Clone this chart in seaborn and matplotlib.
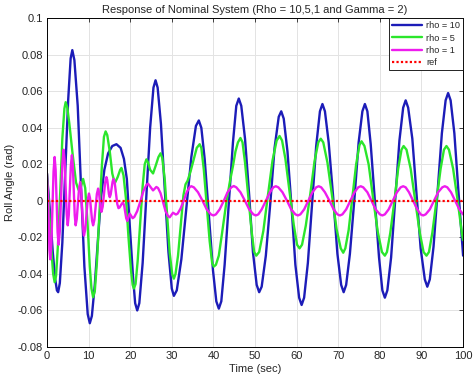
import matplotlib
matplotlib.use("Agg")
import seaborn as sns
import matplotlib.pyplot as plt

# values (time in sec, roll angle in rad)
t_rho10 = [0, 0.7, 1.4, 2.0, 2.4, 2.7,
           3.1, 3.7, 4.4, 5.1, 5.7, 6.1,
           6.6, 7.4, 8.2, 9.0, 9.8, 10.3,
           10.8, 11.5, 12.3, 13.0, 13.8, 14.7, 15.7, 16.7, 17.7, 18.5, 19.2, 20.0, 20.7, 21.2, 21.7,
           22.2, 23.0, 23.9, 24.8, 25.6, 26.1,
           26.6, 27.4, 28.3, 29.2, 30.0, 30.5,
           31.2, 32.3, 33.5, 34.7, 35.8, 36.5,
           37.1, 37.9, 38.9, 39.9, 40.7, 41.3,
           41.9, 42.7, 43.7, 44.7, 45.5, 46.1,
           46.7, 47.6, 48.6, 49.5, 50.4, 51.0,
           51.6, 52.6, 53.7, 54.7, 55.7, 56.3,
           56.9, 57.8, 58.8, 59.7, 60.6, 61.2,
           61.8, 62.7, 63.7, 64.7, 65.6, 66.2,
           66.8, 67.7, 68.8, 69.8, 70.7, 71.3,
           71.9, 72.8, 73.9, 74.9, 75.8, 76.4,
           77.0, 77.8, 78.8, 79.8, 80.6, 81.2,
           81.8, 82.7, 83.7, 84.7, 85.6, 86.2,
           86.8, 87.8, 88.8, 89.8, 90.8, 91.4,
           92.0, 92.9, 93.9, 94.9, 95.8, 96.4,
           97.0, 97.9, 98.9, 100]
v_rho10 = [0.015, -0.005, -0.028, -0.043, -0.049, -0.050,
           -0.045, -0.023, 0.016, 0.055, 0.078, 0.0825,
           0.077, 0.052, 0.0075, -0.036, -0.062, -0.067,
           -0.063, -0.046, -0.020, 0.002, 0.017, 0.026, 0.030, 0.031, 0.029, 0.023, 0.012, -0.017,
           -0.042, -0.056, -0.060,
           -0.056, -0.034, 0.003, 0.040, 0.062, 0.066,
           0.062, 0.042, 0.007, -0.028, -0.048, -0.052,
           -0.049, -0.032, -0.004, 0.024, 0.041, 0.044,
           0.040, 0.023, -0.0075, -0.038, -0.055, -0.059,
           -0.055, -0.035, -0.0015, 0.032, 0.052, 0.056,
           0.052, 0.034, 0.003, -0.028, -0.046, -0.050,
           -0.047, -0.030, -0.0005, 0.029, 0.046, 0.049,
           0.045, 0.027, -0.004, -0.035, -0.053, -0.057,
           -0.053, -0.034, -0.002, 0.030, 0.049, 0.053,
           0.049, 0.032, 0.0015, -0.029, -0.046, -0.050,
           -0.046, -0.029, 0.0015, 0.032, 0.049, 0.053,
           0.049, 0.031, 0.0, -0.031, -0.049, -0.053,
           -0.049, -0.031, 0.001, 0.033, 0.051, 0.055,
           0.051, 0.034, 0.004, -0.026, -0.043, -0.047,
           -0.043, -0.025, 0.006, 0.037, 0.055, 0.059,
           0.055, 0.037, 0.0045, -0.030]

t_rho5 = [0, 0.5, 1.0, 1.5, 1.85,
          2.2, 2.65, 3.2, 3.7, 4.2, 4.5,
          4.9, 5.4, 6.2, 7.0, 7.6, 8.2, 8.7, 9.2, 9.8, 10.3, 10.7, 11.1,
          11.5, 12.0, 12.6, 13.2, 13.7, 14.1,
          14.5, 15.1, 15.7, 16.3, 17.0, 17.6, 17.9, 18.4, 19.0, 19.6, 20.2, 20.6, 20.9,
          21.3, 21.8, 22.4, 23.0, 23.5, 23.9,
          24.3, 24.8, 25.5, 26.1, 26.8, 27.3,
          27.7, 28.3, 28.9, 29.5, 30.1, 30.5,
          30.9, 31.5, 32.2, 32.8, 33.3, 33.8, 34.5, 35.3, 36.0, 36.7,
          37.1, 37.7, 38.4, 39.1, 39.7, 40.1,
          40.6, 41.3, 42.0, 43.1, 44.0, 44.7, 45.3, 45.9, 46.5,
          47.0, 47.6, 48.4, 49.2, 49.8, 50.3,
          51.0, 52.0, 53.1, 54.2, 55.2, 55.9,
          56.5, 57.3, 58.3, 59.3, 60.1, 60.7,
          61.3, 62.2, 63.3, 64.3, 65.2, 65.8,
          66.4, 67.4, 68.5, 69.6, 70.6, 71.2,
          71.7, 72.5, 73.4, 74.3, 75.1, 75.6,
          76.3, 77.3, 78.4, 79.5, 80.5, 81.2,
          81.7, 82.5, 83.5, 84.4, 85.2, 85.7,
          86.4, 87.4, 88.5, 89.6, 90.5, 91.2,
          91.8, 92.6, 93.6, 94.6, 95.4, 96.0,
          96.6, 97.6, 98.7, 99.7, 100]
v_rho5 = [0.015, -0.004, -0.025, -0.040, -0.0445,
          -0.041, -0.024, 0.0048, 0.034, 0.0505, 0.054,
          0.051, 0.042, 0.025, 0.010, 0.006, 0.008, 0.012, 0.007, -0.014, -0.036, -0.048, -0.0527,
          -0.0495, -0.034, -0.007, 0.019, 0.035, 0.038,
          0.036, 0.027, 0.015, 0.0096, 0.013, 0.017, 0.018, 0.014, 0.001, -0.020, -0.038, -0.046,
          -0.048,
          -0.0455, -0.033, -0.0127, 0.008, 0.020, 0.0227,
          0.021, 0.017, 0.015, 0.019, 0.024, 0.026,
          0.0236, 0.012, -0.0083, -0.0285, -0.040, -0.0426,
          -0.040, -0.030, -0.012, 0.003, 0.009, 0.011, 0.016, 0.023, 0.029, 0.031,
          0.029, 0.017, -0.0025, -0.022, -0.034, -0.036,
          -0.035, -0.030, -0.019, -0.001, 0.011, 0.019, 0.027, 0.032, 0.0344,
          0.032, 0.021, 0.002, -0.017, -0.028, -0.030,
          -0.028, -0.0165, 0.003, 0.022, 0.033, 0.0355,
          0.033, 0.023, 0.005, -0.013, -0.024, -0.026,
          -0.024, -0.0136, 0.004, 0.0216, 0.032, 0.034,
          0.032, 0.021, 0.003, -0.0155, -0.026, -0.0284,
          -0.026, -0.016, 0.002, 0.020, 0.0305, 0.0326,
          0.030, 0.020, 0.001, -0.017, -0.028, -0.030,
          -0.028, -0.0176, 0.0, 0.0176, 0.028, 0.030,
          0.028, 0.0176, 0.0, -0.0176, -0.028, -0.030,
          -0.028, -0.0176, 0.0, 0.0176, 0.028, 0.030,
          0.028, 0.0176, 0.0, -0.0176, -0.0215]

t_rho1 = [0, 0.3, 0.6, 0.8, 1.06, 1.59, 1.85, 2.09, 2.56, 2.8, 3.1, 3.7, 4.0, 4.25, 4.75, 5.0,
          5.25, 5.75, 6.0, 6.22, 6.68, 6.9, 7.17, 7.72, 8.0, 8.22, 8.68, 8.9, 9.2, 9.8, 10.1,
          10.35, 10.85, 11.1, 11.4, 12.0, 12.3, 12.5, 12.9, 13.1, 13.4, 14.0, 14.3, 14.5, 14.9,
          15.1, 15.32, 15.78, 16.0, 16.3, 16.9, 17.2, 17.47, 18.03, 18.3, 18.55, 19.05, 19.3,
          19.9, 20.6, 21.0, 21.7, 22.5, 23.2, 23.9, 24.3, 25.5, 26.3, 26.7, 27.3, 27.9, 28.5,
          29.1, 29.5, 30.3, 31.0, 31.4, 32.1, 32.9, 33.6, 34.3, 34.7, 35.3, 36.3, 37.4, 38.4,
          39.4, 40.0,
          40.6, 41.5, 42.5, 43.4, 44.3, 44.9,
          45.5, 46.5, 47.6, 48.6, 49.6, 50.2,
          50.8, 51.6, 52.6, 53.6, 54.4, 55.0,
          55.6, 56.6, 57.7, 58.7, 59.7, 60.3,
          60.9, 61.8, 62.8, 63.8, 64.7, 65.3,
          65.9, 66.8, 67.9, 68.9, 69.8, 70.4,
          71.0, 71.9, 72.9, 73.9, 74.8, 75.4,
          76.0, 77.0, 78.0, 79.0, 80.0, 80.6,
          81.2, 82.1, 83.1, 84.1, 85.0, 85.6,
          86.2, 87.0, 88.0, 89.0, 89.8, 90.4,
          91.0, 92.0, 93.0, 94.0, 95.0, 95.6,
          96.2, 97.1, 98.1, 99.1, 100]
v_rho1 = [0.015, 0.0, -0.027, -0.032, -0.024, 0.016, 0.024, 0.017, -0.017, -0.024, -0.0164,
          0.0204, 0.028, 0.022, -0.0074, -0.0134, -0.0078, 0.0194, 0.025, 0.0194, -0.0078,
          -0.0134, -0.0099, 0.0068, 0.0103, 0.006, -0.0147, -0.019, -0.0156, 0.0006, 0.004,
          0.0015, -0.0109, -0.0134, -0.0105, 0.0038, 0.0067, 0.0048, -0.0041, -0.006, -0.0032,
          0.0102, 0.013, 0.0114, 0.0036, 0.002, 0.0035, 0.0105, 0.012, 0.0097, -0.0017, -0.004,
          -0.0036, -0.0014, -0.001, -0.0025, -0.0095, -0.011,
          -0.007, -0.0095, -0.0088, -0.0056, 0.0, 0.0055, 0.0087, 0.0094, 0.0057, 0.0076, 0.007,
          0.0042, -0.0007, -0.0056, -0.0084, -0.009, -0.0065, -0.0075, -0.007, -0.0043, 0.0003,
          0.0048, 0.0075, 0.008, 0.0074, 0.0047, 0.0, -0.0047, -0.0074, -0.008,
          -0.0074, -0.0047, 0.0, 0.0047, 0.0074, 0.0081,
          0.0074, 0.0047, 0.0, -0.0047, -0.0074, -0.008,
          -0.0074, -0.0047, 0.0, 0.0047, 0.0074, 0.008,
          0.0074, 0.0047, 0.0, -0.0047, -0.0074, -0.008,
          -0.0074, -0.0047, 0.0, 0.0047, 0.0074, 0.008,
          0.0074, 0.0047, 0.0, -0.0047, -0.0074, -0.008,
          -0.0074, -0.0047, 0.0, 0.0047, 0.0074, 0.008,
          0.0074, 0.0047, 0.0, -0.0047, -0.0074, -0.008,
          -0.0074, -0.0047, 0.0, 0.0047, 0.0074, 0.008,
          0.0074, 0.0047, 0.0, -0.0047, -0.0074, -0.008,
          -0.0074, -0.0047, 0.0, 0.0047, 0.0074, 0.008,
          0.0074, 0.0047, 0.0, -0.0047, -0.0074]

t_ref = [0, 100]
v_ref = [0, 0]

x_ticks = [0, 10, 20, 30, 40, 50, 60, 70, 80, 90, 100]
y_ticks = [-0.08, -0.06, -0.04, -0.02, 0, 0.02, 0.04, 0.06, 0.08, 0.1]
y_tick_labels = ["-0.08", "-0.06", "-0.04", "-0.02", "0", "0.02", "0.04", "0.06", "0.08", "0.1"]

sns.set_style("white")
plt.rcParams["font.family"] = ["Liberation Sans", "DejaVu Sans"]

fig = plt.figure(figsize=(4.74, 3.78), dpi=100)
ax = fig.add_axes([0.099, 0.082, 0.878, 0.870])

# Response lines
sns.lineplot(x=t_rho10, y=v_rho10, ax=ax, color="#1c1cb8", linewidth=1.7,
             label="rho = 10", sort=False, estimator=None)
sns.lineplot(x=t_rho5, y=v_rho5, ax=ax, color="#2be62b", linewidth=1.7,
             label="rho = 5", sort=False, estimator=None)
sns.lineplot(x=t_rho1, y=v_rho1, ax=ax, color="#ee1cee", linewidth=1.7,
             label="rho = 1", sort=False, estimator=None)
sns.lineplot(x=t_ref, y=v_ref, ax=ax, color="red", linewidth=1.6,
             linestyle=(0, (1, 1)), label="ref", sort=False, estimator=None)

ax.set_xlim(0, 100)
ax.set_ylim(-0.08, 0.1)
ax.set_xticks(x_ticks)
ax.set_xticklabels([str(v) for v in x_ticks])
ax.set_yticks(y_ticks)
ax.set_yticklabels(y_tick_labels)
ax.grid(True, color="#e3e3e3", linewidth=0.7)
ax.set_axisbelow(True)
ax.tick_params(direction="in", top=True, right=True, length=3, width=0.6,
               labelsize=8, pad=3)
for s in ax.spines.values():
    s.set_color("black")
    s.set_linewidth(0.7)

ax.set_title("Response of Nominal System (Rho = 10,5,1 and Gamma = 2)", fontsize=8, pad=4)
ax.set_xlabel("Time (sec)", fontsize=8, labelpad=2)
ax.set_ylabel("Roll Angle (rad)", fontsize=8, labelpad=2)

leg = ax.legend(loc="upper right", borderaxespad=0, fancybox=False, edgecolor="black",
                framealpha=1, fontsize=6.6, handlelength=3.3, handletextpad=0.4,
                labelspacing=0.35, borderpad=0.35)
leg.get_frame().set_linewidth(0.6)

plt.savefig("out.png", dpi=100)
